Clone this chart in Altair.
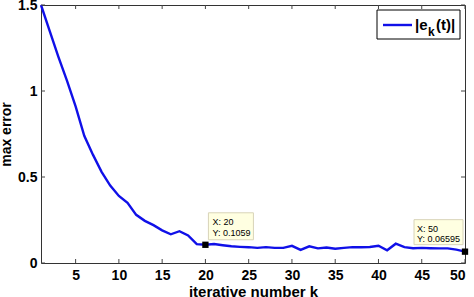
import altair as alt
import pandas as pd

# ---- data ----
k_values = list(range(1, 51))
max_error = [1.50, 1.35, 1.20, 1.06, 0.91, 0.74, 0.63, 0.53, 0.45, 0.39,
             0.35, 0.28, 0.245, 0.22, 0.19, 0.167, 0.185, 0.16, 0.11, 0.1059,
             0.110, 0.103, 0.097, 0.094, 0.092, 0.088, 0.092, 0.088, 0.088, 0.100,
             0.076, 0.097, 0.085, 0.090, 0.083, 0.088, 0.092, 0.092, 0.093, 0.100,
             0.074, 0.112, 0.092, 0.086, 0.088, 0.086, 0.085, 0.085, 0.078, 0.06595]
x_ticks = [5, 10, 15, 20, 25, 30, 35, 40, 45, 50]
y_ticks = [0, 0.5, 1, 1.5]
tip_k = [20, 50]
tip_v = [0.1059, 0.06595]
tip_x_text = ["X: 20", "X: 50"]
tip_y_text = ["Y: 0.1059", "Y: 0.06595"]
legend_label = ["|e", "k", "(t)|"]

W, H = 424, 258
FONT = "Liberation Sans"
BLUE = "#1010e8"

df = pd.DataFrame({"k": k_values, "err": max_error})
xt = pd.DataFrame({"k": x_ticks})
yt = pd.DataFrame({"v": y_ticks})
tips = pd.DataFrame({"k": tip_k, "err": tip_v, "tx": tip_x_text, "ty": tip_y_text})

xscale = alt.Scale(domain=[1, 50], nice=False, zero=False)
yscale = alt.Scale(domain=[0, 1.5], nice=False)

x_enc = alt.X("k:Q", scale=xscale, title="iterative number k",
              axis=alt.Axis(values=x_ticks, grid=False, ticks=False, domain=False,
                            labelFont=FONT, labelFontWeight="bold", labelFontSize=14,
                            labelColor="black", labelPadding=5,
                            titleFont=FONT, titleFontWeight="bold", titleFontSize=15,
                            titleColor="black", titlePadding=2))
y_enc = alt.Y("err:Q", scale=yscale, title="max error",
              axis=alt.Axis(values=y_ticks, grid=False, ticks=False, domain=False,
                            labelExpr="datum.value",
                            labelFont=FONT, labelFontWeight="bold", labelFontSize=14,
                            labelColor="black", labelPadding=4,
                            titleFont=FONT, titleFontWeight="bold", titleFontSize=14,
                            titleColor="black", titlePadding=4))

line = alt.Chart(df).mark_line(color=BLUE, strokeWidth=2.4).encode(x=x_enc, y=y_enc)

# inward ticks (MATLAB style)
tick_color = "#444444"
xb = alt.Chart(xt).mark_rule(color=tick_color, strokeWidth=1).encode(
    x=alt.X("k:Q", scale=xscale), y=alt.value(H), y2=alt.value(H - 4))
xtop = alt.Chart(xt).mark_rule(color=tick_color, strokeWidth=1).encode(
    x=alt.X("k:Q", scale=xscale), y=alt.value(0), y2=alt.value(4))
yl = alt.Chart(yt).mark_rule(color=tick_color, strokeWidth=1).encode(
    y=alt.Y("v:Q", scale=yscale), x=alt.value(0), x2=alt.value(4))
yr = alt.Chart(yt).mark_rule(color=tick_color, strokeWidth=1).encode(
    y=alt.Y("v:Q", scale=yscale), x=alt.value(W - 4), x2=alt.value(W))

# data tips
def tip_layers(i, x0, x1, y0, y1, tdx, tdy1, tdy2):
    d = tips.iloc[[i]]
    base = alt.Chart(d)
    box = base.mark_rect(fill="#ffffe1", stroke="#d8d4b8", strokeWidth=1,
                         xOffset=x0, x2Offset=x1, yOffset=y0, y2Offset=y1).encode(
        x=alt.X("k:Q", scale=xscale), x2="k:Q",
        y=alt.Y("err:Q", scale=yscale), y2="err:Q")
    t1 = base.mark_text(align="left", baseline="middle", font=FONT, fontSize=9,
                        color="black", dx=tdx, dy=tdy1).encode(
        x=alt.X("k:Q", scale=xscale), y=alt.Y("err:Q", scale=yscale), text="tx:N")
    t2 = base.mark_text(align="left", baseline="middle", font=FONT, fontSize=9,
                        color="black", dx=tdx, dy=tdy2).encode(
        x=alt.X("k:Q", scale=xscale), y=alt.Y("err:Q", scale=yscale), text="ty:N")
    return [box, t1, t2]

tip1 = tip_layers(0, 3, 48, -32, -5, 7, -23, -12)
tip2 = tip_layers(1, -51, -2, -32, -7, -48, -23, -13)
markers = alt.Chart(tips).mark_square(color="black", size=40, opacity=1).encode(
    x=alt.X("k:Q", scale=xscale), y=alt.Y("err:Q", scale=yscale))

# legend
leg_df = pd.DataFrame({"a": [0]})
leg = alt.Chart(leg_df)
leg_box = leg.mark_rect(fill="white", stroke="black", strokeWidth=1).encode(
    x=alt.value(336), x2=alt.value(419), y=alt.value(5), y2=alt.value(34))
leg_line = leg.mark_rule(color=BLUE, strokeWidth=2.4).encode(
    x=alt.value(342), x2=alt.value(371), y=alt.value(20))
leg_t1 = leg.mark_text(text=legend_label[0], align="left", baseline="alphabetic",
                       font=FONT, fontWeight="bold", fontSize=15, color="black").encode(
    x=alt.value(374), y=alt.value(25))
leg_t2 = leg.mark_text(text=legend_label[1], align="left", baseline="alphabetic",
                       font=FONT, fontWeight="bold", fontSize=12, color="black").encode(
    x=alt.value(387), y=alt.value(31))
leg_t3 = leg.mark_text(text=legend_label[2], align="left", baseline="alphabetic",
                       font=FONT, fontWeight="bold", fontSize=15, color="black").encode(
    x=alt.value(395), y=alt.value(25))

chart = alt.layer(
    line, xb, xtop, yl, yr, *tip1, *tip2, markers,
    leg_box, leg_line, leg_t1, leg_t2, leg_t3
).properties(
    width=W, height=H,
    autosize=alt.AutoSizeParams(type="none"),
    padding={"left": 41, "top": 5, "right": 9, "bottom": 34},
    background="white"
).configure_view(stroke="#333333", strokeWidth=1)

chart.save("out.html", embed_options={"renderer": "svg", "actions": False})
